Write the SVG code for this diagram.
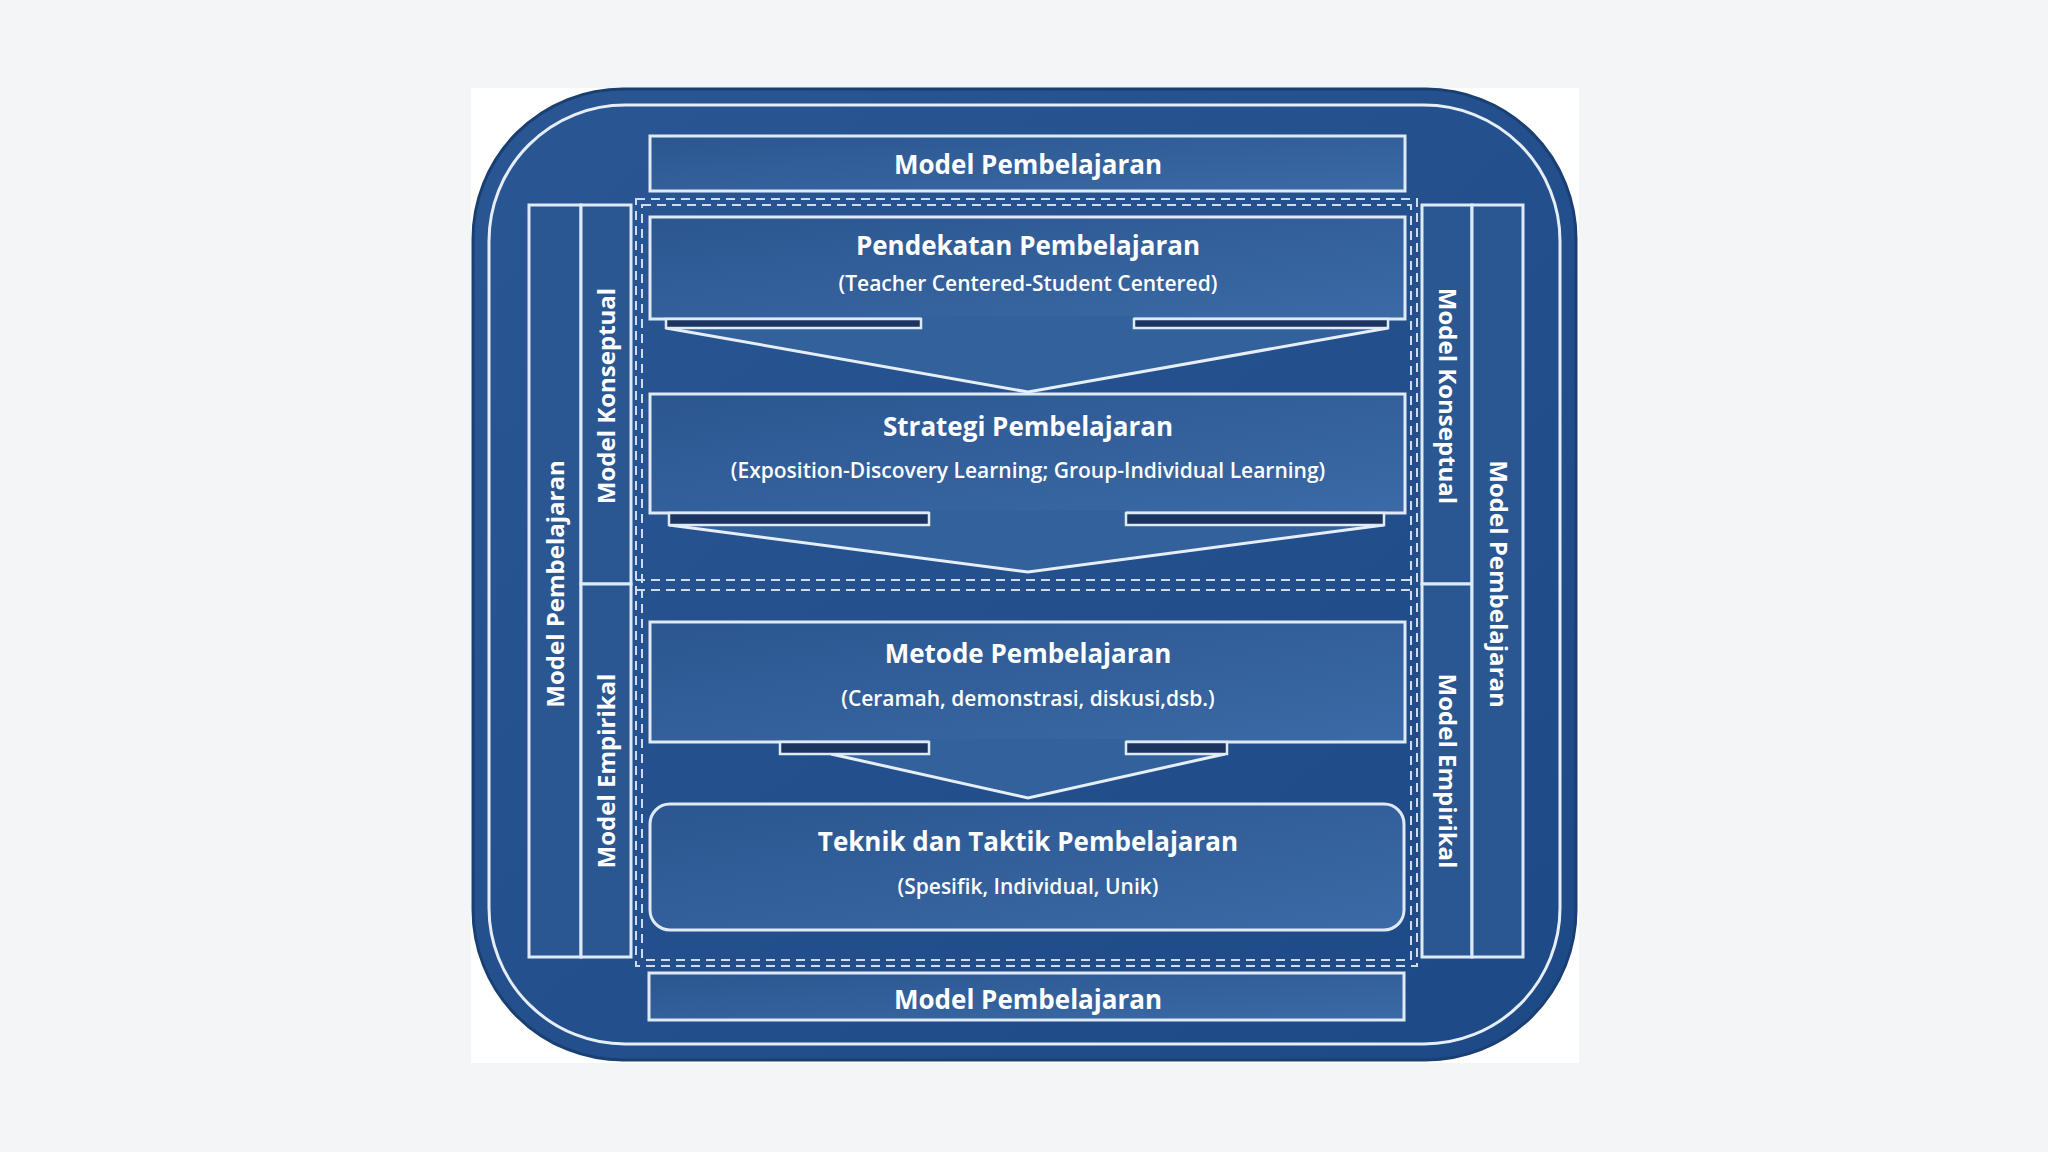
<svg xmlns="http://www.w3.org/2000/svg" width="2048" height="1152" viewBox="0 0 2048 1152">
<defs>
<linearGradient id="bg" x1="0" y1="0" x2="1" y2="1"><stop offset="0" stop-color="#2a5794"/><stop offset="1" stop-color="#1d4a86"/></linearGradient>
<linearGradient id="bx" x1="0" y1="0" x2="1" y2="1"><stop offset="0" stop-color="#2b5690"/><stop offset="1" stop-color="#3b6aa6"/></linearGradient>
</defs>
<style>
.box{fill:url(#bx);stroke:#dfeaf7;stroke-width:3}
.col{fill:#2a5792;stroke:#dfeaf7;stroke-width:3}
.tab{fill:#1b3560;stroke:#dfeaf7;stroke-width:2.5}
.chf{fill:#33619c;stroke:none}
.chl{fill:none;stroke:#e6eef8;stroke-width:3;stroke-linejoin:miter}
.dash{fill:none;stroke:#cfdcef;stroke-width:2;stroke-dasharray:9 6}
.t{font-family:"Open Sans","Liberation Sans",sans-serif;font-weight:bold;fill:#ffffff;text-anchor:middle}
.h{font-size:26px}
.s{font-size:21px;font-weight:600}
.v{font-size:24px}
</style>
<rect width="2048" height="1152" fill="#f4f5f7"/>
<rect x="471" y="88" width="1108" height="975" fill="#ffffff"/>
<rect id="frame" x="473" y="89" width="1103" height="971" rx="150" fill="url(#bg)" stroke="#1a3f73" stroke-width="3"/>
<rect x="489" y="105" width="1071" height="939" rx="136" fill="none" stroke="#e6eef8" stroke-width="3"/>
<g id="guides">
<rect class="dash" x="636" y="199" width="781" height="767"/>
<rect class="dash" x="642" y="205" width="769" height="755"/>
<line class="dash" x1="636" y1="580" x2="1417" y2="580"/>
<line class="dash" x1="636" y1="590" x2="1417" y2="590"/>
</g>
<g id="top"><rect class="box" x="650" y="136" width="755" height="55"/><text class="t h" x="1028" y="174">Model Pembelajaran</text></g>
<g id="pendekatan"><rect class="box" x="650" y="217" width="755" height="102"/></g>
<g id="strategi"><rect class="box" x="650" y="394" width="755" height="119"/></g>
<g id="metode"><rect class="box" x="650" y="622" width="755" height="120"/></g>
<g id="connectors">
<polygon class="chf" points="666,328 921,328 921,316 1134,316 1134,328 1388,328 1028,392"/>
<polyline class="chl" points="666,328 1028,392 1388,328"/>
<rect class="tab" x="666" y="319" width="255" height="9"/>
<rect class="tab" x="1134" y="319" width="254" height="9"/>
<polygon class="chf" points="669,525 929,525 929,510 1126,510 1126,525 1384,525 1028,572"/>
<polyline class="chl" points="669,525 1028,572 1384,525"/>
<rect class="tab" x="669" y="513" width="260" height="12"/>
<rect class="tab" x="1126" y="513" width="258" height="12"/>
<polygon class="chf" points="831,754 929,754 929,739 1126,739 1126,754 1225,754 1028,798"/>
<polyline class="chl" points="831,754 1028,798 1225,754"/>
<rect class="tab" x="780" y="742" width="149" height="12"/>
<rect class="tab" x="1126" y="742" width="101" height="12"/>
</g>
<g id="labels">
<text class="t h" x="1028" y="255">Pendekatan Pembelajaran</text><text class="t s" x="1028" y="291">(Teacher Centered-Student Centered)</text>
<text class="t h" x="1028" y="436">Strategi Pembelajaran</text><text class="t s" x="1028" y="478">(Exposition-Discovery Learning; Group-Individual Learning)</text>
<text class="t h" x="1028" y="663">Metode Pembelajaran</text><text class="t s" x="1028" y="706">(Ceramah, demonstrasi, diskusi,dsb.)</text>
</g>
<g id="teknik"><rect class="box" x="650" y="804" width="754" height="126" rx="20"/><text class="t h" x="1028" y="851">Teknik dan Taktik Pembelajaran</text><text class="t s" x="1028" y="894">(Spesifik, Individual, Unik)</text></g>
<g id="bottom"><rect class="box" x="649" y="973" width="755" height="47"/><text class="t h" x="1028" y="1009">Model Pembelajaran</text></g>
<g id="left-model"><rect class="col" x="529" y="205" width="52" height="752"/><text class="t v" transform="translate(564,584) rotate(-90)">Model Pembelajaran</text></g>
<g id="left-konseptual"><rect class="col" x="581" y="205" width="50" height="379"/><text class="t v" transform="translate(615,396) rotate(-90)">Model Konseptual</text></g>
<g id="left-empirikal"><rect class="col" x="581" y="584" width="50" height="373"/><text class="t v" transform="translate(615,771) rotate(-90)">Model Empirikal</text></g>
<g id="right-konseptual"><rect class="col" x="1422" y="205" width="50" height="379"/><text class="t v" transform="translate(1439,396) rotate(90)">Model Konseptual</text></g>
<g id="right-empirikal"><rect class="col" x="1422" y="584" width="50" height="373"/><text class="t v" transform="translate(1439,771) rotate(90)">Model Empirikal</text></g>
<g id="right-model"><rect class="col" x="1472" y="205" width="51" height="752"/><text class="t v" transform="translate(1490,584) rotate(90)">Model Pembelajaran</text></g>
</svg>
